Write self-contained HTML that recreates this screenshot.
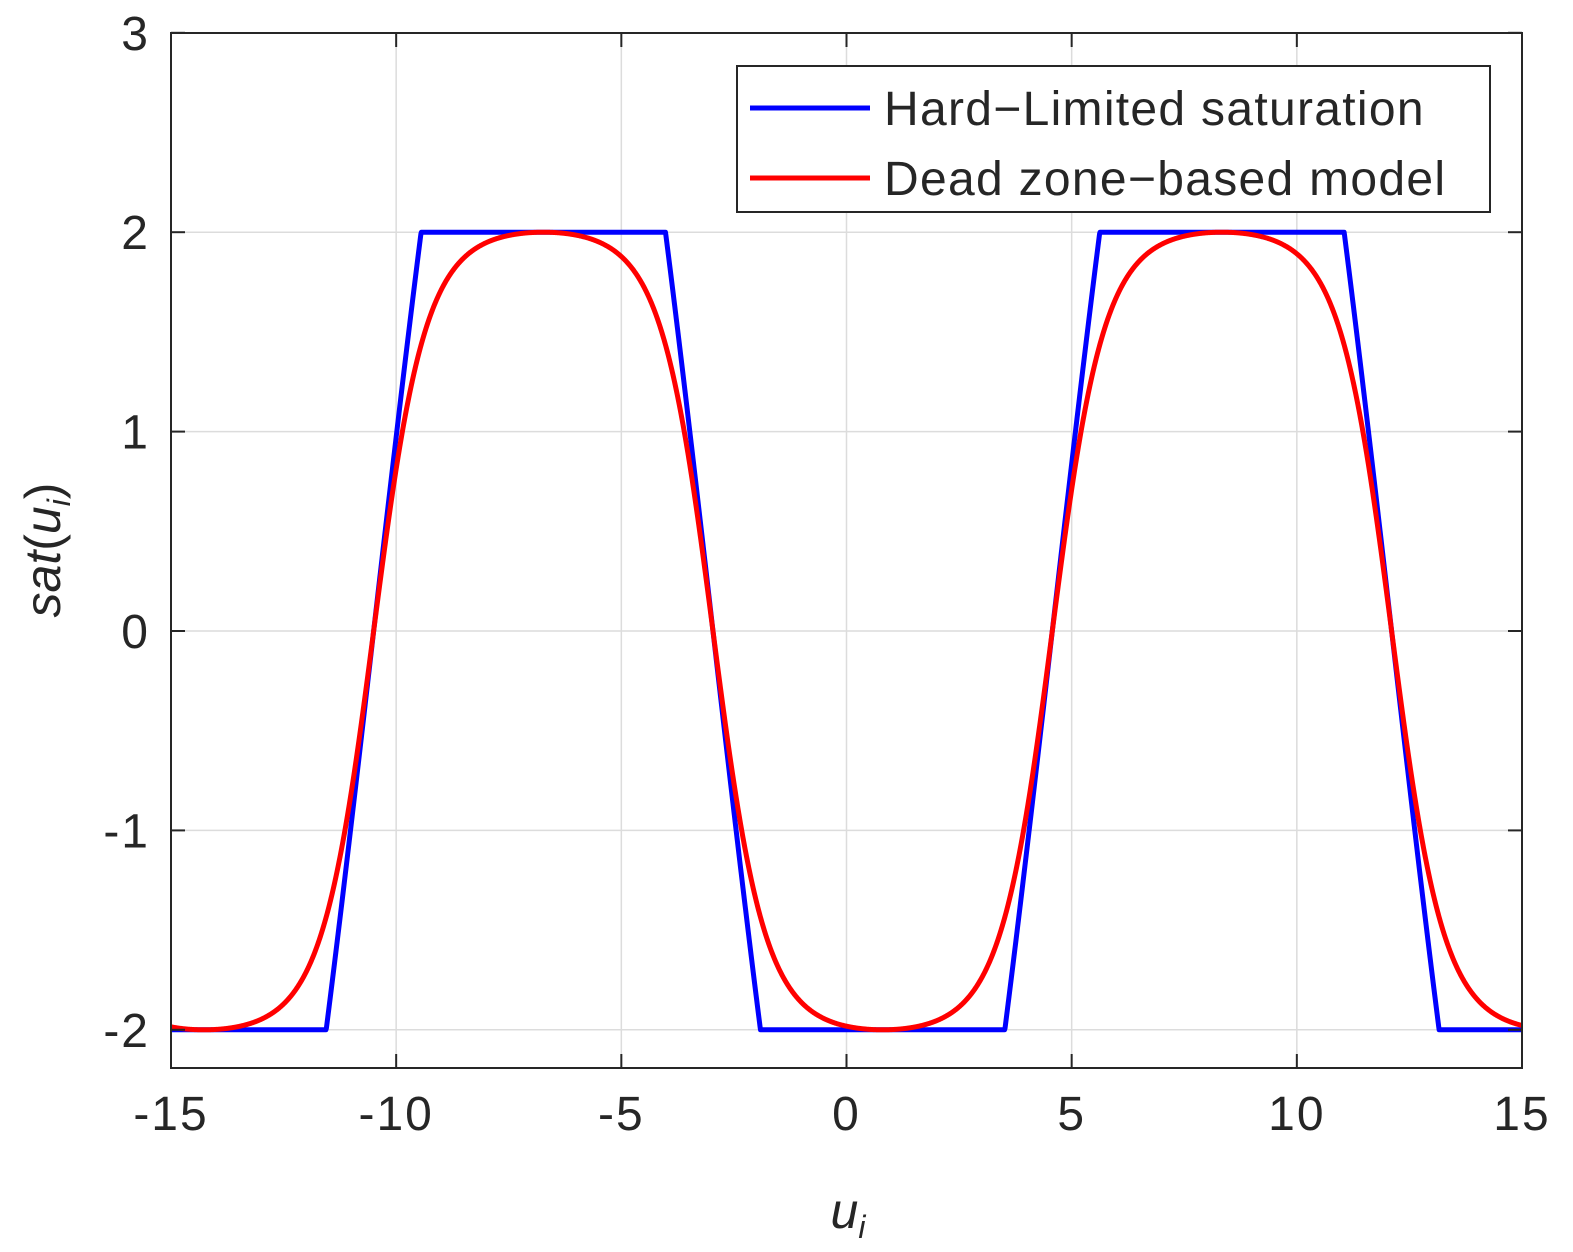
<!DOCTYPE html>
<html><head><meta charset="utf-8"><style>
html,body{margin:0;padding:0;background:#fff;}
svg{display:block;}
text{font-family:"Liberation Sans",Arial,sans-serif;fill:#262626;}
</style></head><body>
<svg id="s" width="1573" height="1252" viewBox="0 0 1573 1252" xmlns="http://www.w3.org/2000/svg">
<rect x="171" y="33" width="1351" height="1035" fill="#fff"/>
<g id="grid" stroke="#dcdcdc" stroke-width="1.5"></g>
<g id="curves" fill="none" stroke-width="5" stroke-linejoin="round"></g>
<rect x="171" y="33" width="1351" height="1035" fill="none" stroke="#262626" stroke-width="2"/>
<g id="ticks" stroke="#262626" stroke-width="2"></g>
<g id="labels" font-size="48" letter-spacing="2"></g>
<text x="848" y="1228" font-family="Liberation Serif,serif" font-style="italic" font-size="50" text-anchor="middle">u<tspan font-size="32" dy="10">i</tspan></text>
<text transform="translate(60,550) rotate(-90)" font-family="Liberation Serif,serif" font-style="italic" font-size="50" text-anchor="middle">sat<tspan font-style="normal">(</tspan>u<tspan font-size="32" dy="10">i</tspan><tspan font-style="normal" dy="-10">)</tspan></text>
<rect x="737" y="66" width="753" height="146" fill="#fff" stroke="#262626" stroke-width="2"/>
<line x1="750" y1="108" x2="870" y2="108" stroke="#0000ff" stroke-width="5"/>
<line x1="750" y1="178" x2="870" y2="178" stroke="#ff0000" stroke-width="5"/>
<text x="884" y="125" font-size="48" letter-spacing="1.3" fill="#000">Hard−Limited saturation</text>
<text x="884" y="195" font-size="48" letter-spacing="1.3" fill="#000">Dead zone−based model</text>
</svg>
<script>
var NS="http://www.w3.org/2000/svg";
function X(x){return 171+(x+15)*1351/30;}
function Y(y){return 631-y*199.4;}
function el(p,t,a,txt){var e=document.createElementNS(NS,t);for(var k in a)e.setAttribute(k,a[k]);if(txt!=null)e.textContent=txt;document.getElementById(p).appendChild(e);}
for(var x=-15;x<=15;x+=5){el('grid','line',{x1:X(x),y1:33,x2:X(x),y2:1068});
 el('ticks','line',{x1:X(x),y1:1068,x2:X(x),y2:1054});el('ticks','line',{x1:X(x),y1:33,x2:X(x),y2:47});
 el('labels','text',{x:X(x),y:1130,'text-anchor':'middle'},x);}
for(var y=-2;y<=3;y++){el('grid','line',{x1:171,y1:Y(y),x2:1522,y2:Y(y)});
 el('ticks','line',{x1:171,y1:Y(y),x2:185,y2:Y(y)});el('ticks','line',{x1:1522,y1:Y(y),x2:1508,y2:Y(y)});
 el('labels','text',{x:150,y:Y(y)+17,'text-anchor':'end'},y);}
var w=2*Math.PI/15.07, x0=4.57, A=4.7, a=2;
var pb=[],pr=[];
for(var i=0;i<=3000;i++){var x=-15+30*i/3000;var s=Math.sin(w*(x-x0));
 var b=Math.max(-2,Math.min(2,A*s));var r=2*Math.tanh(a*s)/Math.tanh(a);
 pb.push(X(x).toFixed(2)+','+Y(b).toFixed(2));pr.push(X(x).toFixed(2)+','+Y(r).toFixed(2));}
el('curves','polyline',{points:pb.join(' '),stroke:'#0000ff'});
el('curves','polyline',{points:pr.join(' '),stroke:'#ff0000'});
</script>
</body></html>
